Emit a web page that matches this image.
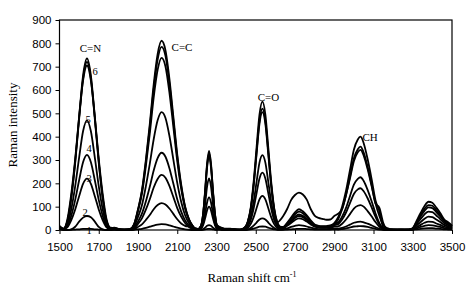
<!DOCTYPE html>
<html>
<head>
<meta charset="utf-8">
<script src="https://cdn.jsdelivr.net/npm/d3@7"></script>
<style>
	body { margin: 0; background: #fff; }
	svg { display: block; font-family: "Liberation Serif", "Times New Roman", serif; }
</style>
</head>
<body>
<div id="chart"></div>
<script>
// Raman shift (cm-1) sample positions, shared by every spectrum
let shift = [
	1500, 1520, 1540, 1560, 1580, 1600, 1620, 1640, 1660, 1680, 1700, 1720, 1740, 1760, 1780, 1800,
	1830, 1860,
	1880, 1900, 1920, 1940, 1960, 1980, 2000, 2020, 2040, 2060, 2080, 2100, 2120, 2140, 2160, 2180, 2200,
	2220, 2232, 2242, 2252, 2262, 2272, 2282, 2292, 2302,
	2320, 2340, 2370, 2400, 2420,
	2444, 2459, 2474, 2489, 2504, 2519, 2534, 2549, 2564, 2579, 2594, 2609, 2624,
	2640, 2660, 2680, 2700, 2720, 2740, 2760, 2780, 2800, 2820, 2840, 2860, 2880, 2900,
	2920, 2940, 2960, 2980, 3000, 3020, 3034, 3050, 3070, 3090, 3110, 3130, 3150, 3170,
	3200, 3240, 3280,
	3300, 3320, 3340, 3360, 3380, 3400, 3420, 3440, 3460, 3480, 3500,
];

// Raman intensity of each spectrum (1 = weakest ... 6-8 = strongest)
let s1 = [
	3, 0, 0, 1, 2, 3, 5, 5, 5, 3, 2, 1, 0, 0, 1, 0,
	0, 0,
	1, 3, 5, 9, 14, 19, 23, 25, 24, 20, 15, 10, 6, 3, 1, 0, 0,
	0, 1, 3, 4, 5, 4, 3, 1, 1,
	2, 0, 1, 0, 0,
	0, 1, 3, 6, 10, 14, 15, 14, 10, 6, 3, 1, 1,
	1, 2, 3, 4, 5, 5, 4, 3, 2, 2, 2, 2, 2, 3,
	2, 4, 7, 11, 15, 16, 17, 16, 13, 9, 5, 2, 1, 0,
	0, 1, 0,
	1, 3, 5, 7, 8, 8, 6, 5, 3, 2, 1,
];
let s2 = [
	5, 2, 0, 3, 14, 36, 53, 60, 55, 36, 13, 3, 0, 0, 2, 0,
	0, 1,
	3, 13, 24, 43, 64, 89, 107, 115, 109, 92, 69, 46, 28, 18, 14, 10, 6,
	1, 4, 10, 18, 21, 18, 10, 4, 2,
	3, 1, 2, 1, 0,
	1, 3, 9, 19, 32, 45, 50, 45, 32, 19, 9, 3, 2,
	3, 7, 13, 18, 21, 19, 15, 10, 6, 4, 4, 4, 5, 6,
	6, 9, 15, 23, 31, 35, 36, 33, 27, 20, 12, 5, 1, 0,
	1, 0, 1,
	2, 7, 13, 18, 21, 20, 17, 13, 8, 6, 3,
];
let s3 = [
	8, 3, 11, 42, 88, 145, 198, 220, 198, 145, 88, 42, 11, 2, 3, 1,
	1, 1,
	7, 26, 50, 87, 132, 182, 219, 236, 224, 189, 142, 94, 57, 30, 13, 5, 0,
	5, 21, 50, 84, 100, 84, 50, 21, 6,
	2, 0, 3, 1, 1,
	3, 9, 25, 54, 93, 131, 146, 131, 93, 54, 25, 9, 6,
	8, 18, 30, 43, 50, 46, 36, 24, 14, 10, 9, 9, 10, 14,
	16, 27, 45, 68, 92, 104, 107, 100, 81, 59, 34, 14, 3, 1,
	1, 1, 1,
	3, 12, 22, 31, 36, 35, 28, 22, 14, 10, 6,
];
let s4 = [
	10, 4, 16, 61, 129, 213, 290, 322, 290, 213, 129, 61, 16, 3, 4, 2,
	1, 2,
	10, 36, 70, 122, 185, 255, 308, 331, 314, 265, 199, 132, 79, 41, 19, 7, 0,
	7, 29, 70, 118, 140, 118, 70, 29, 9,
	4, 0, 2, 1, 0,
	5, 16, 42, 91, 157, 221, 246, 221, 157, 91, 42, 16, 8,
	10, 23, 40, 57, 67, 61, 48, 31, 18, 13, 12, 12, 14, 20,
	25, 45, 75, 115, 154, 174, 179, 166, 136, 98, 57, 23, 5, 2,
	2, 1, 1,
	4, 19, 34, 48, 57, 55, 45, 34, 22, 15, 9,
];
let s5 = [
	12, 5, 24, 89, 188, 310, 423, 470, 423, 310, 188, 89, 24, 5, 5, 3,
	2, 3,
	15, 56, 106, 187, 283, 389, 470, 505, 480, 404, 303, 202, 121, 63, 29, 10, 0,
	10, 46, 110, 186, 221, 186, 110, 46, 14,
	5, 0, 3, 2, 1,
	6, 21, 55, 119, 205, 289, 321, 289, 205, 119, 55, 21, 10,
	12, 28, 47, 67, 79, 72, 56, 36, 21, 15, 14, 14, 17, 25,
	32, 57, 95, 145, 194, 219, 226, 210, 172, 124, 72, 29, 7, 2,
	1, 2, 1,
	6, 26, 47, 67, 79, 77, 62, 47, 30, 21, 13,
];
let s6 = [
	18, 6, 37, 140, 294, 485, 662, 735, 662, 485, 294, 140, 37, 8, 10, 5,
	2, 4,
	24, 89, 170, 300, 454, 624, 754, 811, 770, 649, 487, 324, 195, 101, 46, 16, 0,
	16, 71, 170, 285, 339, 285, 170, 71, 21,
	8, 3, 6, 2, 1,
	11, 35, 94, 204, 352, 495, 550, 495, 352, 204, 94, 35, 15,
	13, 31, 53, 76, 89, 80, 63, 41, 24, 18, 16, 17, 20, 30,
	55, 100, 168, 256, 344, 388, 400, 372, 304, 220, 128, 80, 12, 4,
	2, 1, 2,
	8, 40, 73, 103, 121, 117, 96, 73, 46, 33, 19,
];
let s7 = [
	15, 5, 36, 137, 288, 475, 648, 720, 648, 475, 288, 137, 36, 7, 8, 4,
	1, 4,
	24, 86, 165, 290, 440, 604, 730, 785, 746, 628, 471, 314, 188, 98, 45, 16, 0,
	16, 69, 165, 277, 330, 277, 165, 69, 21,
	12, 5, 4, 3, 2,
	10, 33, 88, 192, 333, 468, 520, 468, 333, 192, 88, 33, 12,
	9, 21, 36, 51, 60, 55, 43, 28, 17, 13, 11, 12, 15, 24,
	46, 89, 150, 228, 307, 346, 357, 332, 271, 196, 114, 95, 30, 4,
	1, 2, 1,
	7, 35, 64, 91, 107, 104, 85, 64, 41, 29, 17,
];
let s8 = [
	14, 5, 45, 155, 305, 485, 640, 705, 640, 485, 305, 155, 45, 10, 9, 4,
	2, 4,
	22, 81, 155, 273, 413, 568, 686, 738, 701, 590, 443, 295, 177, 92, 42, 15, 0,
	15, 67, 159, 267, 318, 267, 159, 67, 20,
	10, 6, 5, 2, 1,
	10, 32, 86, 187, 323, 455, 505, 455, 323, 187, 86, 32, 42,
	60, 90, 128, 150, 160, 152, 130, 90, 62, 52, 48, 44, 45, 60,
	70, 90, 150, 220, 295, 333, 343, 319, 261, 189, 115, 60, 20, 8,
	2, 1, 2,
	7, 32, 58, 82, 97, 94, 77, 58, 37, 26, 16,
];
let spectra = [s1, s2, s3, s4, s5, s6, s7, s8];

let xTicks = [1500, 1700, 1900, 2100, 2300, 2500, 2700, 2900, 3100, 3300, 3500];
let yTicks = [0, 100, 200, 300, 400, 500, 600, 700, 800, 900];

// band names, placed in data units (shift, intensity)
let bandNames = ["C=N", "C=C", "C=O", "CH"];
let bandShift = [1658, 2071, 2510, 3044];
let bandValue = [763, 767, 553, 381];
let bandAnchor = ["middle", "start", "start", "start"];

// spectrum numbers written on the C=N peak
let curveNames = ["1", "2", "3", "4", "5", "6"];
let curveShift = [1638, 1617, 1638, 1638, 1633, 1668];
let curveValue = [-17, 60, 206, 334, 459, 664];

let width = 474;
let height = 289;
let margin = { top: 20, right: 22, bottom: 59, left: 59.5 };

let svg = d3
	.select("#chart")
	.append("svg")
	.attr("width", width)
	.attr("height", height);

let xScale = d3
	.scaleLinear()
	.domain([1500, 3500])
	.range([margin.left, width - margin.right]);

let yScale = d3
	.scaleLinear()
	.domain([0, 900])
	.range([height - margin.bottom, margin.top]);

let xAxis = d3
	.axisBottom(xScale)
	.tickValues(xTicks)
	.tickFormat(d3.format("d"))
	.tickSizeInner(4)
	.tickSizeOuter(0)
	.tickPadding(9);

let yAxis = d3
	.axisLeft(yScale)
	.tickValues(yTicks)
	.tickFormat(d3.format("d"))
	.tickSizeInner(4)
	.tickSizeOuter(0)
	.tickPadding(4);

svg
	.append("g")
	.attr("transform", `translate(0,${yScale(0)})`)
	.call(xAxis)
	.call((g) => g.select(".domain").remove())
	.call((g) => g.selectAll("line").attr("stroke", "#000").attr("stroke-width", 1))
	.call((g) => g.selectAll("text").attr("fill", "#000").attr("font-size", "11.5px"));

svg
	.append("g")
	.attr("transform", `translate(${margin.left},0)`)
	.call(yAxis)
	.call((g) => g.select(".domain").remove())
	.call((g) => g.selectAll("line").attr("stroke", "#000").attr("stroke-width", 1))
	.call((g) => g.selectAll("text").attr("fill", "#000").attr("font-size", "11.5px"));

// spectrum numbers sit under the lines
svg
	.append("g")
	.selectAll("text")
	.data(curveNames)
	.join("text")
	.attr("x", (d, i) => xScale(curveShift[i]))
	.attr("y", (d, i) => yScale(curveValue[i]))
	.attr("font-size", "10.5px")
	.attr("fill", "#000")
	.text((d) => d);

let lineGenerator = d3
	.line()
	.x((d, i) => xScale(shift[i]))
	.y((d) => yScale(d))
	.curve(d3.curveMonotoneX);

svg
	.append("g")
	.selectAll("path")
	.data(spectra)
	.join("path")
	.attr("d", (d) => lineGenerator(d))
	.attr("fill", "none")
	.attr("stroke", "#000")
	.attr("stroke-width", 1.8)
	.attr("stroke-linejoin", "round");

// plot frame
svg
	.append("rect")
	.attr("x", margin.left)
	.attr("y", margin.top)
	.attr("width", width - margin.right - margin.left)
	.attr("height", yScale(0) - margin.top)
	.attr("fill", "none")
	.attr("stroke", "#000")
	.attr("stroke-width", 1.2);

svg
	.append("g")
	.selectAll("text")
	.data(bandNames)
	.join("text")
	.attr("x", (d, i) => xScale(bandShift[i]))
	.attr("y", (d, i) => yScale(bandValue[i]))
	.attr("text-anchor", (d, i) => bandAnchor[i])
	.attr("font-size", "11px")
	.attr("fill", "#000")
	.text((d) => d);

// axis titles
let xTitle = svg
	.append("text")
	.attr("x", 252)
	.attr("y", 281.5)
	.attr("text-anchor", "middle")
	.attr("font-size", "13px")
	.attr("fill", "#000");
xTitle.append("tspan").text("Raman shift cm");
xTitle.append("tspan").attr("dy", "-5").attr("font-size", "8px").text("-1");

svg
	.append("text")
	.attr("transform", `translate(16.5,${125}) rotate(-90)`)
	.attr("text-anchor", "middle")
	.attr("font-size", "13px")
	.attr("fill", "#000")
	.text("Raman intensity");
</script>
</body>
</html>
